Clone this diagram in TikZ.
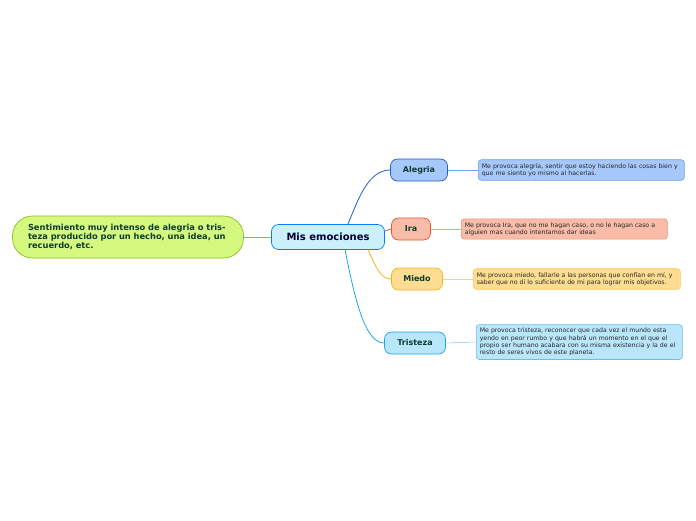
\documentclass[tikz,border=0pt]{standalone}
\usepackage{fontspec}
\setmainfont{DejaVu Sans}
\definecolor{txt}{HTML}{0D3B2E}
\begin{document}
\begin{tikzpicture}[x=1pt,y=-1pt,
 box/.style={draw,rounded corners=7pt,line width=0.7pt,minimum height=22pt,font=\bfseries\fontsize{8}{9}\selectfont,text=txt},
 desc/.style={draw,rounded corners=3pt,line width=0.6pt,font=\fontsize{6.2}{7.3}\selectfont,text=black!85,align=left,inner sep=3.5pt,text width=#1},
 lk/.style={line width=0.8pt}]
\useasboundingbox (0,0) rectangle (696,520);
\node[box,fill=cyan!20!white,draw=blue!50!cyan,minimum width=113pt,minimum height=25pt,font=\bfseries\fontsize{10}{12}\selectfont,text=black!80!blue] (c) at (328,237) {Mis emociones};
\node[box,fill={rgb,255:red,213;green,249;blue,127},draw={rgb,255:red,140;green,189;blue,30},rounded corners=20pt,minimum width=231pt,minimum height=42pt,text width=200pt,align=left,font=\bfseries\fontsize{8.3}{9.3}\selectfont] (l) at (128,237) {Sentimiento muy intenso de alegria o tristeza producido por un hecho, una idea, un recuerdo, etc.};
\node[box,fill={rgb,255:red,167;green,200;blue,251},draw={rgb,255:red,31;green,94;blue,204},minimum width=57pt] (a) at (419,170) {Alegria};
\node[box,fill={rgb,255:red,248;green,188;blue,169},draw={rgb,255:red,226;green,86;blue,42},minimum width=39pt] (i) at (411,229) {Ira};
\node[box,fill={rgb,255:red,254;green,221;blue,144},draw={rgb,255:red,246;green,178;blue,26},minimum width=51pt] (m) at (417,279) {Miedo};
\node[box,fill={rgb,255:red,185;green,230;blue,251},draw={rgb,255:red,27;green,167;blue,230},minimum width=61pt] (t) at (415,343) {Tristeza};
\node[desc=199pt,fill={rgb,255:red,167;green,200;blue,251},draw={rgb,255:red,110;green,160;blue,239},anchor=west] (da) at (478,170) {Me provoca alegría, sentir que estoy haciendo las cosas bien y que me siento yo mismo al hacerlas.};
\node[desc=199pt,fill={rgb,255:red,248;green,188;blue,169},draw={rgb,255:red,240;green,140;blue,110},anchor=west] (di) at (461,229) {Me provoca Ira, que no me hagan caso, o no le hagan caso a alguien mas cuando intentamos dar ideas};
\node[desc=200pt,fill={rgb,255:red,254;green,221;blue,144},draw={rgb,255:red,250;green,200;blue,100},anchor=west] (dm) at (473,279) {Me provoca miedo, fallarle a las personas que confían en mí, y saber que no di lo suficiente de mi para lograr mis objetivos.};
\node[desc=199pt,fill={rgb,255:red,185;green,230;blue,251},draw={rgb,255:red,100;green,190;blue,240},anchor=west] (dt) at (476,342) {Me provoca tristeza, reconocer que cada vez el mundo esta yendo en peor rumbo y que habrá un momento en el que el propio ser humano acabara con su misma existencia y la de el resto de seres vivos de este planeta.};
\draw[lk,draw={rgb,255:red,140;green,189;blue,30}] (l.east) -- (c.west);
\draw[lk,draw={rgb,255:red,31;green,94;blue,204}] (348,224) .. controls (358,200) and (368,170) .. (a.west);
\draw[lk,draw={rgb,255:red,226;green,86;blue,42}] (c.east|-0,231) -- (i.west);
\draw[lk,draw={rgb,255:red,246;green,178;blue,26}] (368,249.5) .. controls (375,265) and (380,279) .. (m.west);
\draw[lk,draw={rgb,255:red,27;green,167;blue,230}] (345,249.5) .. controls (355,300) and (365,343) .. (t.west);
\draw[line width=0.5pt,draw={rgb,255:red,110;green,160;blue,239}] (a.east) -- (da.west);
\draw[line width=0.5pt,draw={rgb,255:red,240;green,160;blue,140}] (i.east) -- (di.west);
\draw[line width=0.5pt,draw={rgb,255:red,250;green,210;blue,130}] (m.east) -- (dm.west);
\draw[line width=0.5pt,draw={rgb,255:red,120;green,200;blue,240}] (t.east) -- (dt.west);
\end{tikzpicture}
\end{document}
